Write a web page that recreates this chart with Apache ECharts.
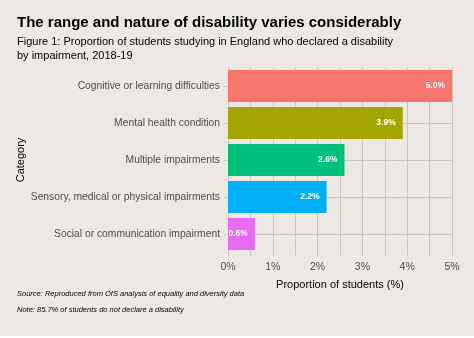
<!DOCTYPE html>
<html>
<head>
<meta charset="utf-8">
<script src="https://cdn.jsdelivr.net/npm/echarts@6/dist/echarts.min.js"></script>
<style>
  html, body { margin: 0; padding: 0; background: #ffffff; }
  #chart { width: 474px; height: 336px; background: #ece9e4; }
</style>
</head>
<body>
<div id="chart"></div>
<script>
// Disability categories, top to bottom as shown
const categories = [
  'Cognitive or learning difficulties',
  'Mental health condition',
  'Multiple impairments',
  'Sensory, medical or physical impairments',
  'Social or communication impairment'
];
// Proportion of students (%) declaring each impairment
const values = [5.0, 3.9, 2.6, 2.2, 0.6];
const barColors = ['#F8766D', '#A3A500', '#00BF7D', '#00B0F6', '#E76BF3'];
const xTickValues = [0, 1, 2, 3, 4, 5];

const font = '"Liberation Sans", Arial, Helvetica, sans-serif';
const gridColor = '#c9c5c0';

const chart = echarts.init(document.getElementById('chart'), null, { renderer: 'canvas' });

// category axis reversed so first category sits on top
const yCats = categories.slice().reverse();
const yVals = values.slice().reverse();
const yCols = barColors.slice().reverse();

chart.setOption({
  backgroundColor: '#ece9e4',
  animation: false,
  title: [
    {
      text: 'The range and nature of disability varies considerably',
      left: 17, top: 15, padding: 0,
      textStyle: { fontFamily: font, fontSize: 15, fontWeight: 'bold', color: '#000' }
    },
    {
      text: 'Figure 1: Proportion of students studying in England who declared a disability\nby impairment, 2018-19',
      left: 17, top: 35, padding: 0,
      textStyle: { fontFamily: font, fontSize: 11, fontWeight: 'normal', color: '#000', lineHeight: 14 }
    },
    {
      text: 'Source: Reproduced from OfS analysis of equality and diversity data',
      left: 17, top: 290, padding: 0,
      textStyle: { fontFamily: font, fontSize: 7.5, fontStyle: 'italic', fontWeight: 'normal', color: '#000' }
    },
    {
      text: 'Note: 85.7% of students do not declare a disability',
      left: 17, top: 306, padding: 0,
      textStyle: { fontFamily: font, fontSize: 7.5, fontStyle: 'italic', fontWeight: 'normal', color: '#000' }
    }
  ],
  grid: { left: 228, right: 22, top: 67.5, bottom: 83.5, containLabel: false },
  xAxis: {
    type: 'value',
    min: 0, max: 5, interval: 0.5,
    name: 'Proportion of students (%)',
    nameLocation: 'middle',
    nameGap: 27,
    nameTextStyle: { fontFamily: font, fontSize: 11, color: '#000' },
    axisLine: { show: false },
    axisTick: { show: true, length: 4, lineStyle: { color: gridColor } },
    axisLabel: {
      fontFamily: font, fontSize: 10.5, color: '#4d4d4d', margin: 9,
      formatter: v => (xTickValues.indexOf(v) >= 0 ? v + '%' : '')
    },
    splitLine: { show: true, lineStyle: { color: gridColor, width: 1 } }
  },
  yAxis: {
    type: 'category',
    data: yCats,
    name: 'Category',
    nameLocation: 'middle',
    nameGap: 194,
    nameRotate: 90,
    nameTextStyle: { fontFamily: font, fontSize: 11, color: '#000' },
    axisLine: { show: false },
    axisTick: { show: true, length: 4, alignWithLabel: true, lineStyle: { color: gridColor } },
    axisLabel: { fontFamily: font, fontSize: 10.3, color: '#4d4d4d', margin: 8 },
    splitLine: { show: true, alignWithLabel: true, lineStyle: { color: gridColor, width: 1 } }
  },
  series: [{
    type: 'bar',
    data: yVals.map((v, i) => ({ value: v, itemStyle: { color: yCols[i] } })),
    barCategoryGap: '13.5%',
    label: {
      show: true,
      position: 'insideRight',
      distance: 7,
      fontFamily: font, fontSize: 8.5, fontWeight: 'bold', color: '#ffffff',
      formatter: p => p.value.toFixed(1) + '%'
    }
  }]
});
</script>
</body>
</html>
